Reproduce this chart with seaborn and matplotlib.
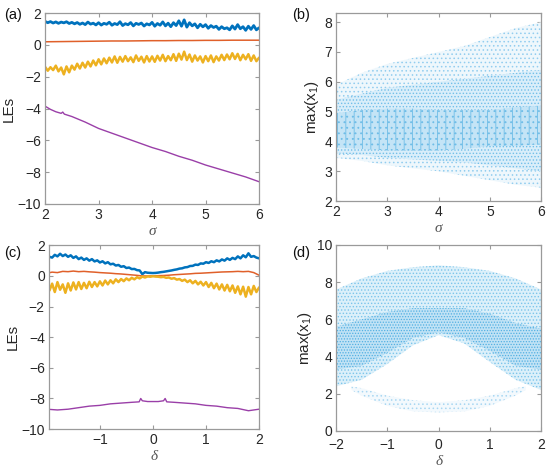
import numpy as np
import pandas as pd
import matplotlib
matplotlib.use("Agg")
import matplotlib.pyplot as plt
import seaborn as sns

# ---------------- data ----------------
# (a) Lyapunov exponents vs sigma
a_sig_fine = [round(2.0 + 0.05 * i, 2) for i in range(81)]
a_blue = [1.48, 1.40, 1.47, 1.38, 1.45, 1.36, 1.44, 1.39, 1.46, 1.35,
          1.42, 1.33, 1.41, 1.30, 1.38, 1.28, 1.44, 1.31, 1.37, 1.26,
          1.40, 1.25, 1.36, 1.30, 1.43, 1.24, 1.35, 1.28, 1.46, 1.22,
          1.34, 1.27, 1.41, 1.20, 1.36, 1.29, 1.38, 1.19, 1.33, 1.26,
          1.42, 1.18, 1.35, 1.24, 1.45, 1.20, 1.37, 1.15, 1.40, 1.22,
          1.52, 1.18, 1.58, 1.12, 1.40, 1.20, 1.33, 1.08, 1.30, 1.14,
          1.28, 1.05, 1.22, 1.10, 1.18, 0.98, 1.15, 1.02, 1.08, 0.95,
          1.20, 1.00, 1.28, 1.02, 1.15, 0.92, 1.18, 0.98, 1.22, 0.95,
          1.08]
a_yellow = [-1.38, -1.62, -1.40, -1.58, -1.30, -1.66, -1.42, -1.85, -1.35, -1.72,
            -1.30, -1.55, -1.18, -1.48, -1.12, -1.42, -1.05, -1.35, -0.98, -1.28,
            -0.90, -1.22, -0.85, -1.15, -0.80, -1.10, -0.72, -1.12, -0.75, -1.05,
            -0.70, -1.02, -0.78, -1.08, -0.66, -1.00, -0.74, -1.10, -0.70, -1.04,
            -0.72, -1.06, -0.68, -0.98, -0.62, -1.02, -0.70, -0.96, -0.58, -1.00,
            -0.55, -0.92, -0.42, -0.95, -0.60, -1.05, -0.66, -0.98, -0.72, -1.10,
            -0.70, -1.02, -0.66, -1.08, -0.72, -0.98, -0.62, -0.95, -0.60, -0.90,
            -0.52, -0.88, -0.56, -0.96, -0.62, -0.90, -0.58, -1.00, -0.66, -1.02,
            -0.80]
a_sig_red = [2.0, 2.25, 2.5, 2.75, 3.0, 3.25, 3.5, 3.75, 4.0, 4.25, 4.5,
             4.75, 5.0, 5.25, 5.5, 5.75, 6.0]
a_red = [0.20, 0.21, 0.22, 0.23, 0.24, 0.25, 0.25, 0.26, 0.27, 0.27, 0.28,
         0.28, 0.29, 0.29, 0.30, 0.30, 0.30]
a_sig_purple = [2.0, 2.1, 2.2, 2.3, 2.33, 2.36, 2.5, 2.75, 3.0, 3.25, 3.5,
                3.75, 4.0, 4.25, 4.5, 4.75, 5.0, 5.25, 5.5, 5.75, 6.0]
a_purple = [-3.85, -4.05, -4.20, -4.30, -4.22, -4.35, -4.50, -4.85, -5.25,
            -5.55, -5.85, -6.15, -6.45, -6.70, -7.00, -7.25, -7.55, -7.80,
            -8.05, -8.30, -8.60]

# (c) Lyapunov exponents vs delta
c_del_fine = [round(-2.0 + 0.05 * i, 2) for i in range(81)]
c_blue = [1.15, 1.25, 1.20, 1.38, 1.28, 1.45, 1.30, 1.40, 1.25, 1.35,
          1.18, 1.28, 1.10, 1.20, 1.05, 1.15, 1.00, 1.10, 0.95, 1.02,
          0.88, 0.96, 0.82, 0.90, 0.76, 0.80, 0.68, 0.72, 0.60, 0.64,
          0.52, 0.55, 0.45, 0.46, 0.38, 0.36, 0.12, 0.25, 0.21, 0.20,
          0.19, 0.20, 0.22, 0.25, 0.27, 0.30, 0.33, 0.36, 0.40, 0.43,
          0.48, 0.50, 0.56, 0.58, 0.65, 0.66, 0.74, 0.72, 0.82, 0.80,
          0.90, 0.85, 0.96, 0.90, 1.02, 0.95, 1.08, 1.00, 1.15, 1.05,
          1.18, 1.10, 1.28, 1.15, 1.35, 1.22, 1.48, 1.25, 1.30, 1.20,
          1.15]
c_yellow = [-0.45, -0.95, -0.50, -1.05, -0.40, -0.90, -0.55, -1.10, -0.48, -0.95,
            -0.42, -0.88, -0.40, -0.85, -0.45, -0.80, -0.38, -0.72, -0.40, -0.68,
            -0.35, -0.62, -0.30, -0.55, -0.28, -0.48, -0.22, -0.40, -0.20, -0.34,
            -0.16, -0.28, -0.12, -0.22, -0.08, -0.16, -0.04, -0.10, -0.03, -0.05,
            -0.02, -0.04, -0.05, -0.08, -0.06, -0.12, -0.10, -0.18, -0.14, -0.24,
            -0.20, -0.32, -0.24, -0.40, -0.28, -0.48, -0.32, -0.55, -0.38, -0.62,
            -0.40, -0.72, -0.45, -0.80, -0.50, -0.88, -0.55, -0.95, -0.58, -1.00,
            -0.62, -1.10, -0.68, -1.20, -0.70, -1.35, -0.72, -1.20, -0.65, -1.05,
            -0.75]
c_del_red = [round(-2.0 + 0.1 * i, 1) for i in range(41)]
c_red = [0.18, 0.25, 0.22, 0.30, 0.28, 0.32, 0.28, 0.30, 0.27, 0.25,
         0.22, 0.20, 0.18, 0.15, 0.13, 0.10, 0.07, 0.04, 0.00, 0.00,
         0.01, 0.02, 0.03, 0.05, 0.08, 0.10, 0.12, 0.14, 0.17, 0.18,
         0.20, 0.22, 0.24, 0.26, 0.27, 0.28, 0.30, 0.28, 0.30, 0.22,
         0.05]
c_del_purple = [-2.0, -1.8, -1.6, -1.4, -1.2, -1.0, -0.8, -0.6, -0.4, -0.26,
                -0.23, -0.20, -0.1, 0.0, 0.1, 0.2, 0.23, 0.26, 0.4, 0.6,
                0.8, 1.0, 1.2, 1.4, 1.6, 1.8, 2.0]
c_purple = [-8.70, -8.75, -8.70, -8.60, -8.50, -8.45, -8.35, -8.30, -8.25,
            -8.22, -8.00, -8.15, -8.20, -8.20, -8.20, -8.15, -8.00, -8.22,
            -8.25, -8.30, -8.35, -8.45, -8.50, -8.60, -8.65, -8.80, -8.70]

# (b) bifurcation cloud envelopes vs sigma
b_sig = [2.0, 2.5, 3.0, 3.5, 4.0, 4.5, 5.0, 5.5, 6.0]
b_outer_lo = [3.45, 3.35, 3.20, 3.10, 3.00, 2.85, 2.70, 2.55, 2.45]
b_outer_hi = [5.90, 6.30, 6.60, 6.80, 7.00, 7.20, 7.50, 7.80, 8.00]
b_mid_lo = [3.60, 3.55, 3.45, 3.40, 3.35, 3.30, 3.20, 3.10, 3.00]
b_mid_hi = [5.40, 5.60, 5.80, 5.90, 6.00, 6.10, 6.20, 6.30, 6.40]
b_core_lo = [3.80, 3.75, 3.70, 3.70, 3.70, 3.75, 3.85, 3.85, 3.90]
b_core_hi = [4.95, 5.05, 5.10, 5.10, 5.05, 5.05, 5.05, 5.15, 5.20]

# (d) bifurcation cloud envelopes vs delta
d_del = [-2.0, -1.5, -1.0, -0.5, 0.0, 0.5, 1.0, 1.5, 2.0]
d_outer_lo = [2.40, 2.75, 3.60, 4.60, 5.15, 4.70, 3.70, 2.75, 2.20]
d_outer_hi = [7.60, 8.20, 8.60, 8.80, 8.90, 8.80, 8.60, 8.20, 7.60]
d_core_lo = [3.30, 3.50, 4.20, 5.00, 5.30, 5.00, 4.30, 3.50, 3.30]
d_core_hi = [5.60, 6.00, 6.40, 6.60, 6.60, 6.60, 6.30, 5.80, 5.50]
d_arc_del = [-1.7, -1.5, -1.0, -0.5, 0.0, 0.5, 1.0, 1.5, 1.7]
d_arc_lo = [2.20, 1.90, 1.35, 1.05, 1.00, 1.05, 1.35, 1.90, 2.20]
d_arc_hi = [2.40, 2.30, 1.90, 1.65, 1.55, 1.65, 1.90, 2.30, 2.40]

# ---------------- style ----------------
sns.set_theme(style="ticks")
plt.rcParams['font.family'] = ['Liberation Sans', 'DejaVu Sans']
plt.rcParams['mathtext.fontset'] = 'custom'
plt.rcParams['mathtext.rm'] = 'Liberation Sans'
plt.rcParams['mathtext.it'] = 'Liberation Sans:italic'
plt.rcParams['hatch.linewidth'] = 0.6

C_BLUE = '#0072BD'
C_RED = '#E0602A'
C_YEL = '#EDB120'
C_PUR = '#9A3FA8'
C_DOT = '#3aa6dd'
SPINE = '#9a9a9a'
TXT = '#262626'
GREEK = dict(family=['Liberation Serif', 'DejaVu Serif'], style='italic',
             fontsize=11, color='#555555')

fig = plt.figure(figsize=(5.5, 4.7), dpi=100)
ax_a = fig.add_axes([0.082, 0.566, 0.389, 0.406])
ax_b = fig.add_axes([0.611, 0.572, 0.373, 0.400])
ax_c = fig.add_axes([0.089, 0.087, 0.382, 0.391])
ax_d = fig.add_axes([0.611, 0.083, 0.373, 0.396])


def style_axes(ax):
    for s in ax.spines.values():
        s.set_visible(True)
        s.set_color(SPINE)
        s.set_linewidth(0.9)
    ax.tick_params(direction='in', length=3, width=0.8, color=SPINE,
                   labelsize=10, labelcolor=TXT, top=True, right=True, pad=3)


def line(ax, x, y, color, lw):
    sns.lineplot(x=x, y=y, ax=ax, color=color, lw=lw, estimator=None,
                 sort=False, legend=False)


# (a)
line(ax_a, a_sig_fine, a_blue, C_BLUE, 2.0)
line(ax_a, a_sig_red, a_red, C_RED, 1.1)
line(ax_a, a_sig_fine, a_yellow, C_YEL, 1.8)
line(ax_a, a_sig_purple, a_purple, C_PUR, 1.0)
ax_a.set_xlim(2, 6)
ax_a.set_ylim(-10, 2)
ax_a.set_xticks([2, 3, 4, 5, 6])
ax_a.set_yticks([-10, -8, -6, -4, -2, 0, 2])
ax_a.set_ylabel('LEs', fontsize=11, color=TXT, labelpad=1)
ax_a.set_xlabel('σ', labelpad=2, **GREEK)

# (c)
line(ax_c, c_del_fine, c_blue, C_BLUE, 1.8)
line(ax_c, c_del_red, c_red, C_RED, 1.1)
line(ax_c, c_del_fine, c_yellow, C_YEL, 1.8)
line(ax_c, c_del_purple, c_purple, C_PUR, 1.0)
ax_c.set_xlim(-1.96, 2)
ax_c.set_ylim(-10, 2)
ax_c.set_xticks([-1, 0, 1, 2])
ax_c.set_yticks([-10, -8, -6, -4, -2, 0, 2])
ax_c.set_ylabel('LEs', fontsize=11, color=TXT, labelpad=1)
ax_c.set_xlabel('δ', labelpad=2, **GREEK)


def cloud(ax, x, lo, hi, face, dens, ec=C_DOT):
    ax.fill_between(x, lo, hi, facecolor=face, edgecolor=ec, hatch=dens,
                    linewidth=0, zorder=1)


# (b)
cloud(ax_b, b_sig, b_outer_lo, b_outer_hi, '#eef7fc', '....', '#92cdef')
cloud(ax_b, b_sig, b_mid_lo, b_mid_hi, '#d9eefa', '.....', '#72bfe9')
cloud(ax_b, b_sig, b_core_lo, b_core_hi, '#c4e4f6', '||...', '#6fbde7')
ax_b.set_xlim(2, 6)
ax_b.set_ylim(2, 8.3)
ax_b.set_xticks([2, 3, 4, 5, 6])
ax_b.set_yticks([2, 3, 4, 5, 6, 7, 8])
ax_b.set_ylabel(r'max(x$_\mathrm{1}$)', fontsize=11, color=TXT, labelpad=2)
ax_b.set_xlabel('σ', labelpad=2, **GREEK)

# (d)
cloud(ax_d, d_arc_del, d_arc_lo, d_arc_hi, '#f3f9fd', '....', '#a8d7f2')
cloud(ax_d, d_del, d_outer_lo, d_outer_hi, '#dcf0fa', '.....', '#7cc4eb')
cloud(ax_d, d_del, d_core_lo, d_core_hi, '#c0e2f5', '......', '#52b0e2')
ax_d.set_xlim(-2, 2)
ax_d.set_ylim(0, 10)
ax_d.set_xticks([-2, -1, 0, 1, 2])
ax_d.set_yticks([0, 2, 4, 6, 8, 10])
ax_d.set_ylabel(r'max(x$_\mathrm{1}$)', fontsize=11, color=TXT, labelpad=2)
ax_d.set_xlabel('δ', labelpad=2, **GREEK)

for ax in (ax_a, ax_b, ax_c, ax_d):
    style_axes(ax)
ax_d.tick_params(axis='x', pad=5)

for lab, x, y in [('(a)', 0.008, 0.968), ('(b)', 0.532, 0.968),
                  ('(c)', 0.008, 0.462), ('(d)', 0.532, 0.462)]:
    fig.text(x, y, lab, fontsize=10.5, color='#111111', va='center', ha='left')

fig.savefig('out.png', dpi=100)
